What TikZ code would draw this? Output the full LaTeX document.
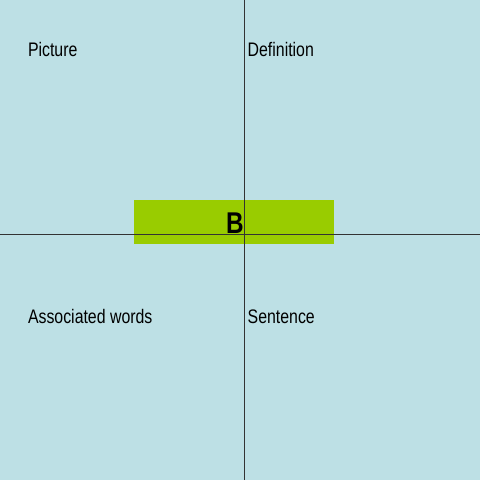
\documentclass[tikz,border=0pt]{standalone}
\usepackage{fontspec}
\setmainfont{Liberation Sans}[FakeStretch=0.81]
\definecolor{bgblue}{HTML}{BDE0E5}
\definecolor{bargreen}{HTML}{99CC00}
\definecolor{axis}{HTML}{333333}
\begin{document}
\begin{tikzpicture}[x=1pt,y=-1pt,
  lbl/.style={anchor=base west,inner sep=0pt,font=\fontsize{19.6}{22}\selectfont,text=black},
  axisline/.style={draw=axis,line width=0.8pt}]
\fill[bgblue] (0,0) rectangle (480,480);
\useasboundingbox (0,0) rectangle (480,480);
\fill[bargreen] (134,199.5) rectangle (334,244);
\coordinate (top) at (244.3,0);
\coordinate (bottom) at (244.3,480);
\coordinate (left) at (0,234.6);
\coordinate (right) at (480,234.6);
\draw[axisline] (top) -- (bottom);
\draw[axisline] (left) -- (right);
\node[anchor=base,inner sep=0pt,font=\fontsize{30}{32}\selectfont\bfseries] (b) at (235,233.7) {B};
\node[lbl] (picture) at (27.8,56.7) {Picture};
\node[lbl] (definition) at (247.5,56.7) {Definition};
\node[lbl] (assoc) at (27.8,323.3) {Associated words};
\node[lbl] (sentence) at (247.5,323.3) {Sentence};
\end{tikzpicture}
\end{document}
